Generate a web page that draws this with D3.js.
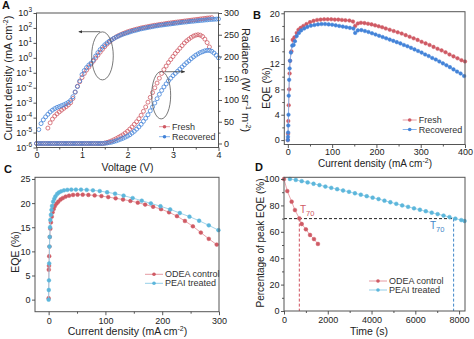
<!DOCTYPE html>
<html>
<head>
<meta charset="utf-8">
<script src="https://cdn.jsdelivr.net/npm/d3@7"></script>
<style>
  body { margin: 0; background: #fff; }
  svg { display: block; font-family: "Liberation Sans", Arial, sans-serif; }
  .axis line { stroke: #444; stroke-width: 0.9; }
  .axis text { font-size: 9px; fill: #222; }
  .title { font-size: 10.5px; fill: #222; }
  .legend { font-size: 9px; fill: #333; }
  .tag { font-size: 11px; font-weight: bold; fill: #111; }
</style>
</head>
<body>
<script>
// ---------- data ----------
// panel A : voltage sweep, current density (log10 mA/cm2) and radiance (W/sr/m2)
const voltage = [0,0.05,0.1,0.15,0.2,0.25,0.3,0.35,0.4,0.45,0.5,0.55,0.6,0.65,0.7,0.75,0.8,0.85,0.9,0.95,
  1,1.05,1.1,1.15,1.2,1.25,1.3,1.35,1.4,1.45,1.5,1.55,1.6,1.65,1.7,1.75,1.8,1.85,1.9,1.95,
  2,2.05,2.1,2.15,2.2,2.25,2.3,2.35,2.4,2.45,2.5,2.55,2.6,2.65,2.7,2.75,2.8,2.85,2.9,2.95,
  3,3.05,3.1,3.15,3.2,3.25,3.3,3.35,3.4,3.45,3.5,3.55,3.6,3.65,3.7,3.75,3.8,3.85,3.9,3.95,4];
const jFreshLog = [null,null,null,null,null,-4.70,-4.35,-4.10,-3.90,-3.75,-3.62,-3.50,-3.38,-3.27,-3.15,-3.00,-2.72,-2.30,-1.90,-1.60,
  -1.32,-1.05,-0.82,-0.62,-0.42,-0.22,-0.02,0.18,0.38,0.57,0.75,0.92,1.06,1.19,1.30,1.40,1.48,1.55,1.62,1.68,
  1.74,1.79,1.84,1.88,1.92,1.96,2.00,2.03,2.06,2.09,2.12,2.15,2.18,2.20,2.23,2.25,2.27,2.30,2.32,2.34,
  2.36,2.38,2.40,2.42,2.44,2.46,2.48,2.50,2.52,2.54,2.56,2.58,2.60,2.62,2.64,2.66,2.67,2.69,null,null,null];
const jRecoveredLog = [null,-4.80,-4.40,-4.15,-3.95,-3.78,-3.62,-3.50,-3.40,-3.32,-3.26,-3.20,-3.14,-3.07,-2.98,-2.85,-2.60,-2.28,-1.92,-1.55,
  -1.12,-0.85,-0.65,-0.48,-0.35,-0.15,0.12,0.35,0.55,0.72,0.87,1.00,1.11,1.21,1.30,1.38,1.45,1.52,1.58,1.63,
  1.68,1.73,1.78,1.82,1.86,1.90,1.94,1.97,2.00,2.03,2.06,2.09,2.12,2.14,2.17,2.19,2.21,2.23,2.25,2.27,
  2.29,2.31,2.33,2.35,2.37,2.39,2.40,2.42,2.44,2.45,2.47,2.48,2.50,2.51,2.53,2.54,2.56,2.57,2.58,2.59,2.60];
const radFresh = [0,0,0,0,0,0,0,0,0,0,0,0,0,0,0,0,0,0,0,0,
  0,0,0,0,0,0,0,0,0,0,1,2.5,4,6,8.5,11,14,17,20,24,
  28,33,38,44,50,57,65,74,84,95,106,117,128,139,150,161,170,178,186,193,
  200,207,213,219,225,231,236,240,244,247,249,250,249,246,240,232,222,null,null,null,null];
const radRecovered = [0,0,0,0,0,0,0,0,0,0,0,0,0,0,0,0,0,0,0,0,
  0,0,0,0,0,0,0,0,0,0,0.5,1,2,3,4.5,6,8,10,12,14.5,
  17,20,24,28,33,38,44,51,58,66,75,84,93,103,113,122,130,137,144,150,
  156,161,166,171,176,181,186,190,195,199,203,206,209,211,213,214,214,212,208,203,197];

// panel B : EQE vs current density, fresh / recovered
const jB_fresh = [0,0.5,1,2,3,4,5,8,11,15,20,24,29,35,42,50,58,66,74,82,90,98,106,114,122,130,139,147,152,158,
  165,173,181,189,197,205,213,221,230,239,248,257,266,275,284,293,302,311,320,329,338,347,356,365,374,383,392,400];
const eqeB_fresh = [0,1,3,5.5,8,10.5,12.5,14,15.8,16.2,16.9,17.4,17.7,18.0,18.3,18.6,18.8,18.95,19.0,19.05,19.05,19.05,19.0,19.0,18.95,18.9,18.85,18.7,18.0,18.4,
  18.5,18.45,18.35,18.25,18.1,17.95,17.8,17.6,17.4,17.2,17.0,16.8,16.55,16.3,16.05,15.8,15.5,15.25,15.0,14.7,14.4,14.15,13.85,13.5,13.2,12.9,12.6,12.4];
const jB_recovered = [0,0.3,0.7,1,1.5,2,3,4,5,7,10,13,16,20,25,30,37,44,52,60,68,76,84,92,100,108,116,124,132,140,148,152,158,
  166,174,182,190,198,206,214,222,230,238,246,254,262,270,278,286,294,302,310,318,326,334,342,350,358,366,374,382,390,398];
const eqeB_recovered = [0,0.5,1.2,2.3,4,7,9.5,11.3,12.5,13.8,14.9,15.0,15.6,16.4,16.9,17.3,17.6,17.85,18.05,18.15,18.25,18.3,18.3,18.25,18.2,18.1,18.0,17.9,17.8,17.7,17.6,16.9,17.3,
  17.35,17.2,17.05,16.85,16.65,16.45,16.25,16.05,15.85,15.65,15.45,15.25,15.0,14.8,14.55,14.3,14.05,13.8,13.5,13.25,12.95,12.7,12.4,12.1,11.8,11.5,11.15,10.8,10.5,10.1];

// panel C : EQE vs current density, ODEA control / PEAI treated
const jC_odea = [0,0.3,0.6,1,1.5,2,3,4,5.5,7,9,11,14,17,21,25,30,36,43,51,60,70,81,93,105,118,131,144,157,170,184,198,212,226,240,254,268,282,296];
const eqeC_odea = [0.3,6.2,7.0,9,11,13,14.7,16.0,17.2,18.1,18.8,19.4,19.9,20.3,20.75,21.05,21.35,21.55,21.7,21.75,21.75,21.7,21.6,21.45,21.25,21.0,20.75,20.45,20.1,19.7,19.25,18.75,18.1,17.3,16.3,15.2,13.9,12.6,11.4];
const jC_peai = [0,0.3,0.6,1,1.5,2,2.5,3,4,5,6,8,10,12,15,18,22,27,33,40,48,57,67,78,90,103,117,132,148,164,180,197,214,231,248,265,282,299];
const eqeC_peai = [0,2,4,7.5,11,13,15,16.5,17.6,18.6,19.4,20.3,20.9,21.4,21.9,22.2,22.45,22.65,22.75,22.8,22.8,22.8,22.75,22.65,22.5,22.25,21.95,21.55,21.05,20.5,19.95,19.35,18.7,17.95,17.2,16.35,15.4,14.4];

// panel D : stability, percentage of peak EQE vs time
const tD_odea = [0,150,350,500,700,810,1000,1190,1370,1550];
const eqeD_odea = [100,90.9,82.8,76.5,70.2,65.9,61.9,57.6,54.5,50.8];
const tD_peai = [270,540,810,1080,1350,1620,1890,2160,2430,2700,2970,3240,3510,3780,4050,4320,4590,4860,5130,5400,5670,5940,6210,6480,6750,7020,7290,7560,7830,8100,8250];
const eqeD_peai = [100,99.3,98.4,97.4,96.4,95.4,94.3,93.3,92.3,91.3,90.3,89.2,88.1,87.0,85.9,84.8,83.6,82.4,81.2,80.0,78.9,77.8,76.7,75.6,74.5,73.4,72.3,71.2,70.0,68.9,68.2];
const t70_odea = 700, t70_peai = 7750, level70 = 70;

const seriesA = ["Fresh", "Recovered"];
const seriesC = ["ODEA control", "PEAI treated"];

// ---------- colours ----------
const red = "#cf5a64", redLine = "#e59aa2";
const blue = "#4383d8", blueLine = "#86b2ea";
const cyan = "#5cb6db", cyanLine = "#95cfe8";

const svg = d3.select("body").append("svg").attr("width", 474).attr("height", 339);

function pairs(xs, ys) {
  return xs.map((d, i) => [d, ys[i]]).filter(p => p[1] !== null);
}

// text with superscript pieces; the shift is undone on the next piece
function rich(sel, parts, small = 7) {
  let pending = 0;
  parts.forEach(p => {
    if (typeof p === "string") {
      const t = sel.append("tspan").text(p);
      if (pending) t.attr("dy", pending);
      pending = 0;
    } else {
      sel.append("tspan").attr("dy", pending - 4).attr("font-size", small).text(p.sup);
      pending = 4;
    }
  });
  return sel;
}

function frame(g, x, y) {
  const [x0, x1] = x.range(), [y0, y1] = y.range();
  g.append("rect").attr("x", x0).attr("y", y1).attr("width", x1 - x0).attr("height", y0 - y1)
    .attr("fill", "none").attr("stroke", "#555").attr("stroke-width", 1);
}

function axisCall(g, axis, transform) {
  g.append("g").attr("class", "axis").attr("transform", transform).call(axis)
    .call(a => a.select(".domain").remove());
}

function bottomAxis(g, x, y, major, minor, pad = 2) {
  const yb = y.range()[0];
  axisCall(g, d3.axisBottom(x).tickValues(major).tickSize(3.5).tickPadding(pad).tickFormat(d3.format("d")), `translate(0,${yb})`);
  axisCall(g, d3.axisBottom(x).tickValues(minor).tickSize(2).tickFormat(""), `translate(0,${yb})`);
}

function leftAxis(g, x, y, major, minor) {
  const xl = x.range()[0];
  axisCall(g, d3.axisLeft(y).tickValues(major).tickSize(3).tickPadding(1.5).tickFormat(d3.format("d")), `translate(${xl},0)`);
  if (minor) axisCall(g, d3.axisLeft(y).tickValues(minor).tickSize(2).tickFormat(""), `translate(${xl},0)`);
}

function series(g, x, y, data, col, lineCol, r, open) {
  if (lineCol) {
    g.append("path").datum(data).attr("fill", "none").attr("stroke", lineCol).attr("stroke-width", 0.9)
      .attr("d", d3.line().x(d => x(d[0])).y(d => y(d[1])));
  }
  g.append("g").selectAll("circle").data(data).join("circle")
    .attr("cx", d => x(d[0])).attr("cy", d => y(d[1])).attr("r", r)
    .attr("fill", open ? "none" : col).attr("stroke", col).attr("stroke-width", open ? 0.8 : 0.5);
}

function legend(g, names, cols, lineCols, x0, y0, dy, len) {
  names.forEach((name, i) => {
    const yy = y0 + i * dy;
    g.append("line").attr("x1", x0).attr("x2", x0 + len).attr("y1", yy).attr("y2", yy)
      .attr("stroke", lineCols[i]).attr("stroke-width", 1);
    g.append("circle").attr("cx", x0 + len / 2).attr("cy", yy).attr("r", 1.8).attr("fill", cols[i]);
    g.append("text").attr("class", "legend").attr("x", x0 + len + 2).attr("y", yy).attr("dy", "0.35em").text(name);
  });
}

function vTitle(g, cx, cy, parts, angle, size) {
  const t = g.append("text").attr("class", "title").attr("text-anchor", "middle").attr("dy", "0.35em")
    .attr("transform", `translate(${cx},${cy}) rotate(${angle})`);
  if (size) t.style("font-size", size + "px");
  rich(t, parts);
}

function hTitle(g, cx, cy, parts, size) {
  const t = g.append("text").attr("class", "title").attr("text-anchor", "middle").attr("x", cx).attr("y", cy);
  if (size) t.style("font-size", size + "px");
  rich(t, parts);
}

// ---------- panel A ----------
{
  const g = svg.append("g");
  const x = d3.scaleLinear().domain([0, 4]).range([36.5, 218.5]);
  const yL = d3.scaleLog().domain([1e-6, 1e3]).range([147.5, 13]);
  const yR = d3.scaleLinear().domain([-9.2, 300]).range([147.5, 13]);

  const dataJF = pairs(voltage, jFreshLog).map(d => [d[0], Math.pow(10, d[1])]);
  const dataJR = pairs(voltage, jRecoveredLog).map(d => [d[0], Math.pow(10, d[1])]);
  series(g, x, yL, dataJF, red, null, 2, true);
  series(g, x, yL, dataJR, blue, null, 2, true);
  series(g, x, yR, pairs(voltage, radFresh), red, null, 2, true);
  series(g, x, yR, pairs(voltage, radRecovered), blue, null, 2, true);

  frame(g, x, yL);
  bottomAxis(g, x, yL, [0, 1, 2, 3, 4], [0.5, 1.5, 2.5, 3.5], 1);
  const decades = d3.range(-6, 4).map(e => Math.pow(10, e));
  axisCall(g, d3.axisLeft(yL).tickValues(decades).tickSize(3).tickFormat(""), `translate(36.5,0)`);
  g.selectAll(".expLabel").data(decades).join("text").attr("class", "expLabel")
    .attr("x", 32).attr("y", d => yL(d)).attr("dy", "0.38em").attr("text-anchor", "end")
    .style("font-size", "9px").style("fill", "#222")
    .each(function (d) {
      const t = d3.select(this);
      t.append("tspan").text("10");
      t.append("tspan").attr("dy", -4).attr("font-size", 6.5).text(String(Math.round(Math.log10(d))));
    });
  axisCall(g, d3.axisRight(yR).tickValues([0, 50, 100, 150, 200, 250, 300]).tickSize(3.5).tickPadding(2).tickFormat(d3.format("d")), `translate(218.5,0)`);
  axisCall(g, d3.axisRight(yR).tickValues([25, 75, 125, 175, 225, 275]).tickSize(2).tickFormat(""), `translate(218.5,0)`);

  // annotations: ellipses with arrows pointing to the relevant axis
  const defs = svg.append("defs");
  defs.append("marker").attr("id", "arr").attr("viewBox", "0 0 10 10").attr("refX", 9).attr("refY", 5)
    .attr("markerWidth", 5).attr("markerHeight", 5).attr("orient", "auto")
    .append("path").attr("d", "M0,1L10,5L0,9z").attr("fill", "#333");
  g.append("ellipse").attr("cx", x(1.45)).attr("cy", yL(1.35)).attr("rx", 10.8).attr("ry", 24)
    .attr("fill", "none").attr("stroke", "#555").attr("stroke-width", 0.8);
  g.append("line").attr("x1", x(1.4)).attr("x2", x(0.93)).attr("y1", yL(56)).attr("y2", yL(56))
    .attr("stroke", "#444").attr("stroke-width", 0.8).attr("marker-end", "url(#arr)");
  g.append("ellipse").attr("cx", x(2.74)).attr("cy", yR(111)).attr("rx", 9.5).attr("ry", 23.7)
    .attr("fill", "none").attr("stroke", "#555").attr("stroke-width", 0.8);
  g.append("line").attr("x1", x(2.82)).attr("x2", x(3.26)).attr("y1", yR(165)).attr("y2", yR(165))
    .attr("stroke", "#444").attr("stroke-width", 0.8).attr("marker-end", "url(#arr)");

  legend(g, seriesA, [red, blue], [redLine, blueLine], 159, 126.7, 10, 11);
  hTitle(g, 127.5, 171, ["Voltage (V)"]);
  vTitle(g, 8, 78, ["Current density (mA cm", { sup: "-2" }, ")"], -90, 11);
  vTitle(g, 246, 80, ["Radiance (W sr", { sup: "-1" }, " m", { sup: "-2" }, ")"], 90, 11);
  g.append("text").attr("class", "tag").attr("x", 2).attr("y", 9).text("A");
}

// ---------- panel B ----------
{
  const g = svg.append("g");
  const x = d3.scaleLinear().domain([-8, 400]).range([284.3, 465]);
  const y = d3.scaleLinear().domain([-0.7, 20.25]).range([144.5, 11.7]);
  series(g, x, y, pairs(jB_fresh, eqeB_fresh), red, redLine, 1.8, false);
  series(g, x, y, pairs(jB_recovered, eqeB_recovered), blue, blueLine, 1.8, false);
  frame(g, x, y);
  bottomAxis(g, x, y, [0, 100, 200, 300, 400], [50, 150, 250, 350], 0.5);
  leftAxis(g, x, y, [0, 4, 8, 12, 16, 20], [2, 6, 10, 14, 18]);
  legend(g, seriesA, [red, blue], [redLine, blueLine], 402.7, 120, 9.5, 14);
  hTitle(g, 375, 166.5, ["Current density (mA cm", { sup: "-2" }, ")"], 10);
  vTitle(g, 266, 88, ["EQE (%)"], -90);
  g.append("text").attr("class", "tag").attr("x", 253).attr("y", 19).text("B");
}

// ---------- panel C ----------
{
  const g = svg.append("g");
  const x = d3.scaleLinear().domain([-24, 300]).range([35, 219]);
  const y = d3.scaleLinear().domain([-2.5, 25.35]).range([311.7, 177.3]);
  series(g, x, y, pairs(jC_odea, eqeC_odea), red, redLine, 1.9, false);
  series(g, x, y, pairs(jC_peai, eqeC_peai), cyan, cyanLine, 1.9, false);
  frame(g, x, y);
  bottomAxis(g, x, y, [0, 100, 200, 300], [50, 150, 250]);
  leftAxis(g, x, y, [0, 5, 10, 15, 20, 25], null);
  legend(g, seriesC, [red, cyan], [redLine, cyanLine], 145, 274.3, 9, 18);
  hTitle(g, 127.5, 334.5, ["Current density (mA cm", { sup: "-2" }, ")"]);
  vTitle(g, 15, 252, ["EQE (%)"], -90);
  g.append("text").attr("class", "tag").attr("x", 4).attr("y", 173).text("C");
}

// ---------- panel D ----------
{
  const g = svg.append("g");
  const x = d3.scaleLinear().domain([0, 8270]).range([284, 465]);
  const y = d3.scaleLinear().domain([0, 101.3]).range([311, 177.3]);

  const dash = (x1, y1, x2, y2, col) => g.append("line")
    .attr("x1", x(x1)).attr("y1", y(y1)).attr("x2", x(x2)).attr("y2", y(y2))
    .attr("stroke", col).attr("stroke-width", 1).attr("stroke-dasharray", "3,2");
  dash(0, level70, t70_peai, level70, "#222");
  dash(t70_odea, level70, t70_odea, 0, "#d0505e");
  dash(t70_peai, level70, t70_peai, 0, "#3f86c8");

  series(g, x, y, pairs(tD_odea, eqeD_odea), red, redLine, 1.9, false);
  series(g, x, y, pairs(tD_peai, eqeD_peai), cyan, cyanLine, 1.9, false);
  frame(g, x, y);
  bottomAxis(g, x, y, [0, 2000, 4000, 6000, 8000], [1000, 3000, 5000, 7000]);
  leftAxis(g, x, y, [0, 20, 40, 60, 80, 100], [10, 30, 50, 70, 90]);

  const t70 = (tx, ty, col) => {
    const t = g.append("text").attr("x", x(tx)).attr("y", y(ty)).style("font-size", "10px").style("fill", col);
    t.append("tspan").text("T");
    t.append("tspan").attr("dy", 3).attr("font-size", 7.5).text("70");
  };
  t70(730, 74.5, "#cf5a64");
  t70(6670, 62.5, "#3f86c8");

  legend(g, seriesC, [red, cyan], [redLine, cyanLine], 369, 281, 9, 18);
  hTitle(g, 369, 335, ["Time (s)"]);
  vTitle(g, 260, 243, ["Percentage of peak EQE (%)"], -90, 10);
  g.append("text").attr("class", "tag").attr("x", 255).attr("y", 171).text("D");
}
</script>
</body>
</html>
